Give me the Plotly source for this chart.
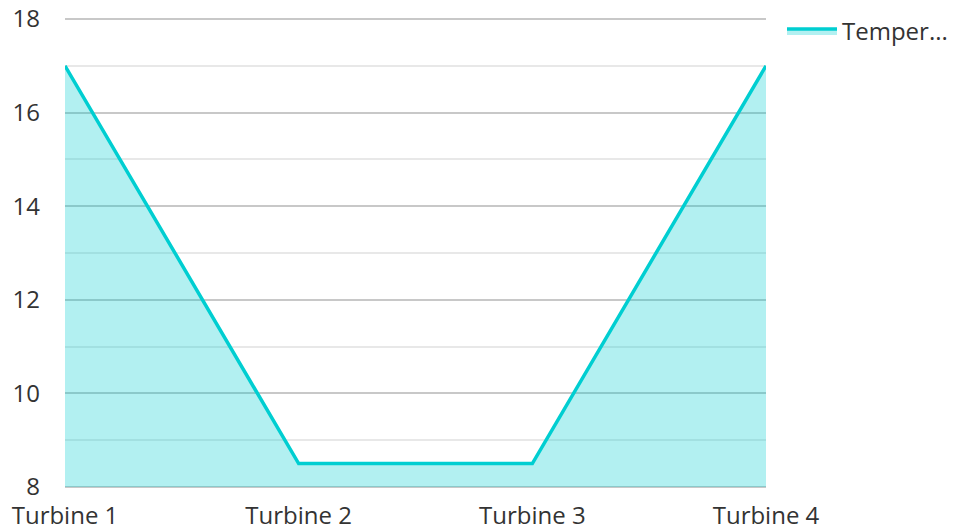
import plotly.graph_objects as go

turbines = ["Turbine 1", "Turbine 2", "Turbine 3", "Turbine 4"]
temperature = [17, 8.5, 8.5, 17]
series_name = "Temper..."
y_min, y_max = 8, 18

fig = go.Figure()
fig.add_trace(go.Scatter(
    x=turbines,
    y=temperature,
    name=series_name,
    mode="lines",
    line=dict(color="#00CED1", width=3.5),
    fill="tozeroy",
    fillcolor="rgba(0,206,209,0.3)",
    showlegend=True,
))

# grid lines along the bottom and top edges of the plot area
for edge in (0, 1):
    fig.add_shape(
        type="line", xref="paper", yref="paper",
        x0=0, x1=1, y0=edge, y1=edge,
        line=dict(color="#c8c8c8", width=2),
        layer="below",
    )

font_family = "Open Sans, Noto Sans, sans-serif"
text_size = 24

fig.update_layout(
    width=956,
    height=526,
    margin=dict(l=65, r=190, t=19, b=39, autoexpand=False),
    paper_bgcolor="white",
    plot_bgcolor="white",
    font=dict(family=font_family, size=text_size, color="#333333"),
    showlegend=True,
    legend=dict(
        xref="container", yref="container",
        x=782 / 956, y=1 - 9 / 526, xanchor="left", yanchor="top",
        itemwidth=50,
        font=dict(size=text_size, color="#333333"),
        bgcolor="rgba(0,0,0,0)",
    ),
    xaxis=dict(
        type="category",
        range=[0, 3],
        automargin=False,
        showgrid=False,
        zeroline=False,
        showline=False,
        ticks="",
        ticklabelstandoff=12,
        tickfont=dict(size=text_size, color="#333333"),
    ),
    yaxis=dict(
        range=[y_min, y_max],
        dtick=2,
        tick0=y_min,
        automargin=False,
        showgrid=True,
        gridcolor="#c8c8c8",
        gridwidth=2,
        zeroline=False,
        showline=False,
        ticks="",
        ticklabelstandoff=24,
        tickfont=dict(size=text_size, color="#333333"),
        minor=dict(dtick=1, tick0=y_min, showgrid=True, gridcolor="#e8e8e8", gridwidth=2),
    ),
)

fig.write_html("out.html")
